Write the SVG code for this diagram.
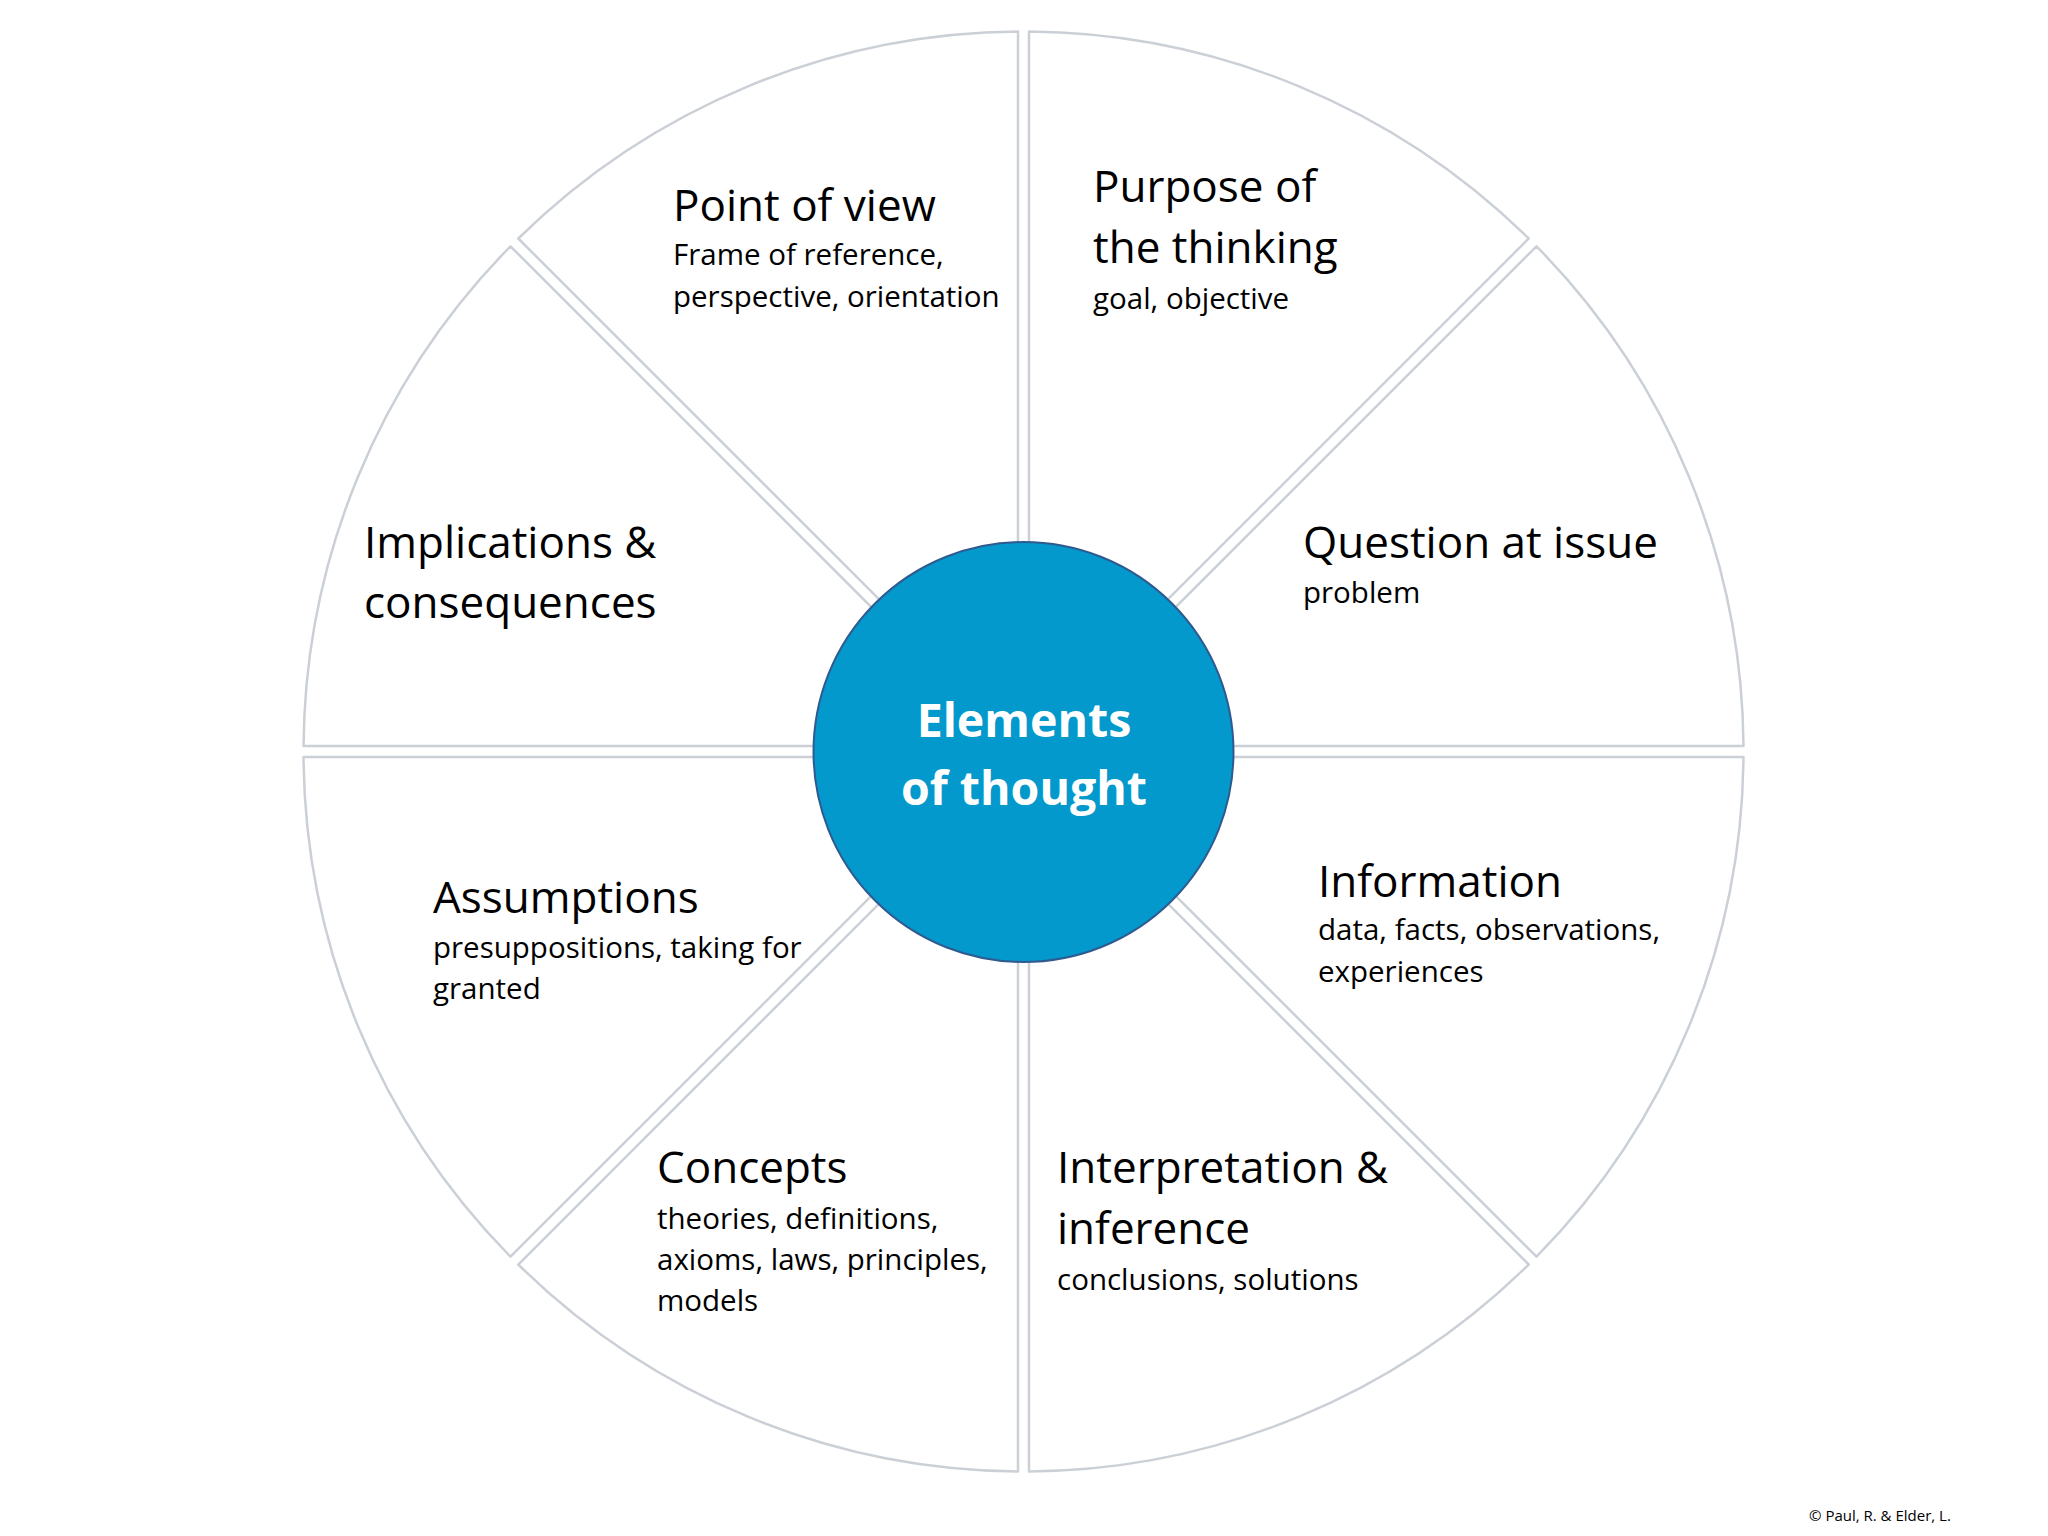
<svg xmlns="http://www.w3.org/2000/svg" xmlns:xlink="http://www.w3.org/1999/xlink" width="2048" height="1536" viewBox="0 0 2048 1536">
  <style>
    .wedge { fill: #ffffff; stroke: #cbd0d7; stroke-width: 2.5; stroke-linejoin: round; }
    .t { font-family: "Open Sans", "Noto Sans", "Liberation Sans", sans-serif; fill: #000000; }
    .title { font-size: 44px; }
    .sub { font-size: 29.5px; }
    .center { font-family: "Open Sans", "Noto Sans", "Liberation Sans", sans-serif; font-weight: bold; font-size: 46.5px; fill: #ffffff; text-anchor: middle; }
    .copy { font-family: "Open Sans", "Noto Sans", "Liberation Sans", sans-serif; font-size: 15px; fill: #000000; }
  </style>
  <defs>
    <path id="wedgeShape" class="wedge" d="M5.5,-13.28 L5.5,-719.98 A720,720 0 0 1 505.23,-513.01 Z"/>
  </defs>
  <rect x="0" y="0" width="2048" height="1536" fill="#ffffff"/>

  <g id="purpose">
    <use xlink:href="#wedgeShape" href="#wedgeShape" transform="translate(1023.5,751.5) rotate(0)"/>
    <text class="t title" x="1093" y="202">Purpose of</text>
    <text class="t title" x="1093" y="263">the thinking</text>
    <text class="t sub" x="1093" y="309">goal, objective</text>
  </g>
  <g id="question">
    <use xlink:href="#wedgeShape" href="#wedgeShape" transform="translate(1023.5,751.5) rotate(45)"/>
    <text class="t title" x="1303" y="558">Question at issue</text>
    <text class="t sub" x="1303" y="603">problem</text>
  </g>
  <g id="information">
    <use xlink:href="#wedgeShape" href="#wedgeShape" transform="translate(1023.5,751.5) rotate(90)"/>
    <text class="t title" x="1318" y="897">Information</text>
    <text class="t sub" x="1318" y="940">data, facts, observations,</text>
    <text class="t sub" x="1318" y="982">experiences</text>
  </g>
  <g id="interpretation">
    <use xlink:href="#wedgeShape" href="#wedgeShape" transform="translate(1023.5,751.5) rotate(135)"/>
    <text class="t title" x="1057" y="1183">Interpretation &amp;</text>
    <text class="t title" x="1057" y="1244">inference</text>
    <text class="t sub" x="1057" y="1290">conclusions, solutions</text>
  </g>
  <g id="concepts">
    <use xlink:href="#wedgeShape" href="#wedgeShape" transform="translate(1023.5,751.5) rotate(180)"/>
    <text class="t title" x="657" y="1183">Concepts</text>
    <text class="t sub" x="657" y="1229">theories, definitions,</text>
    <text class="t sub" x="657" y="1270">axioms, laws, principles,</text>
    <text class="t sub" x="657" y="1311">models</text>
  </g>
  <g id="assumptions">
    <use xlink:href="#wedgeShape" href="#wedgeShape" transform="translate(1023.5,751.5) rotate(225)"/>
    <text class="t title" x="433" y="913">Assumptions</text>
    <text class="t sub" x="433" y="958">presuppositions, taking for</text>
    <text class="t sub" x="433" y="999">granted</text>
  </g>
  <g id="implications">
    <use xlink:href="#wedgeShape" href="#wedgeShape" transform="translate(1023.5,751.5) rotate(270)"/>
    <text class="t title" x="364" y="558">Implications &amp;</text>
    <text class="t title" x="364" y="618">consequences</text>
  </g>
  <g id="point-of-view">
    <use xlink:href="#wedgeShape" href="#wedgeShape" transform="translate(1023.5,751.5) rotate(315)"/>
    <text class="t title" x="673" y="221">Point of view</text>
    <text class="t sub" x="673" y="265">Frame of reference,</text>
    <text class="t sub" x="673" y="307">perspective, orientation</text>
  </g>

  <g id="connectors"></g>

  <g id="elements-of-thought">
    <circle cx="1023.5" cy="752" r="210" fill="#0399cc" stroke="#2f5a8f" stroke-width="2"/>
    <text class="center" x="1024" y="737">Elements</text>
    <text class="center" x="1024" y="805">of thought</text>
  </g>

  <text class="copy" x="1809" y="1521">© Paul, R. &amp; Elder, L.</text>
</svg>
